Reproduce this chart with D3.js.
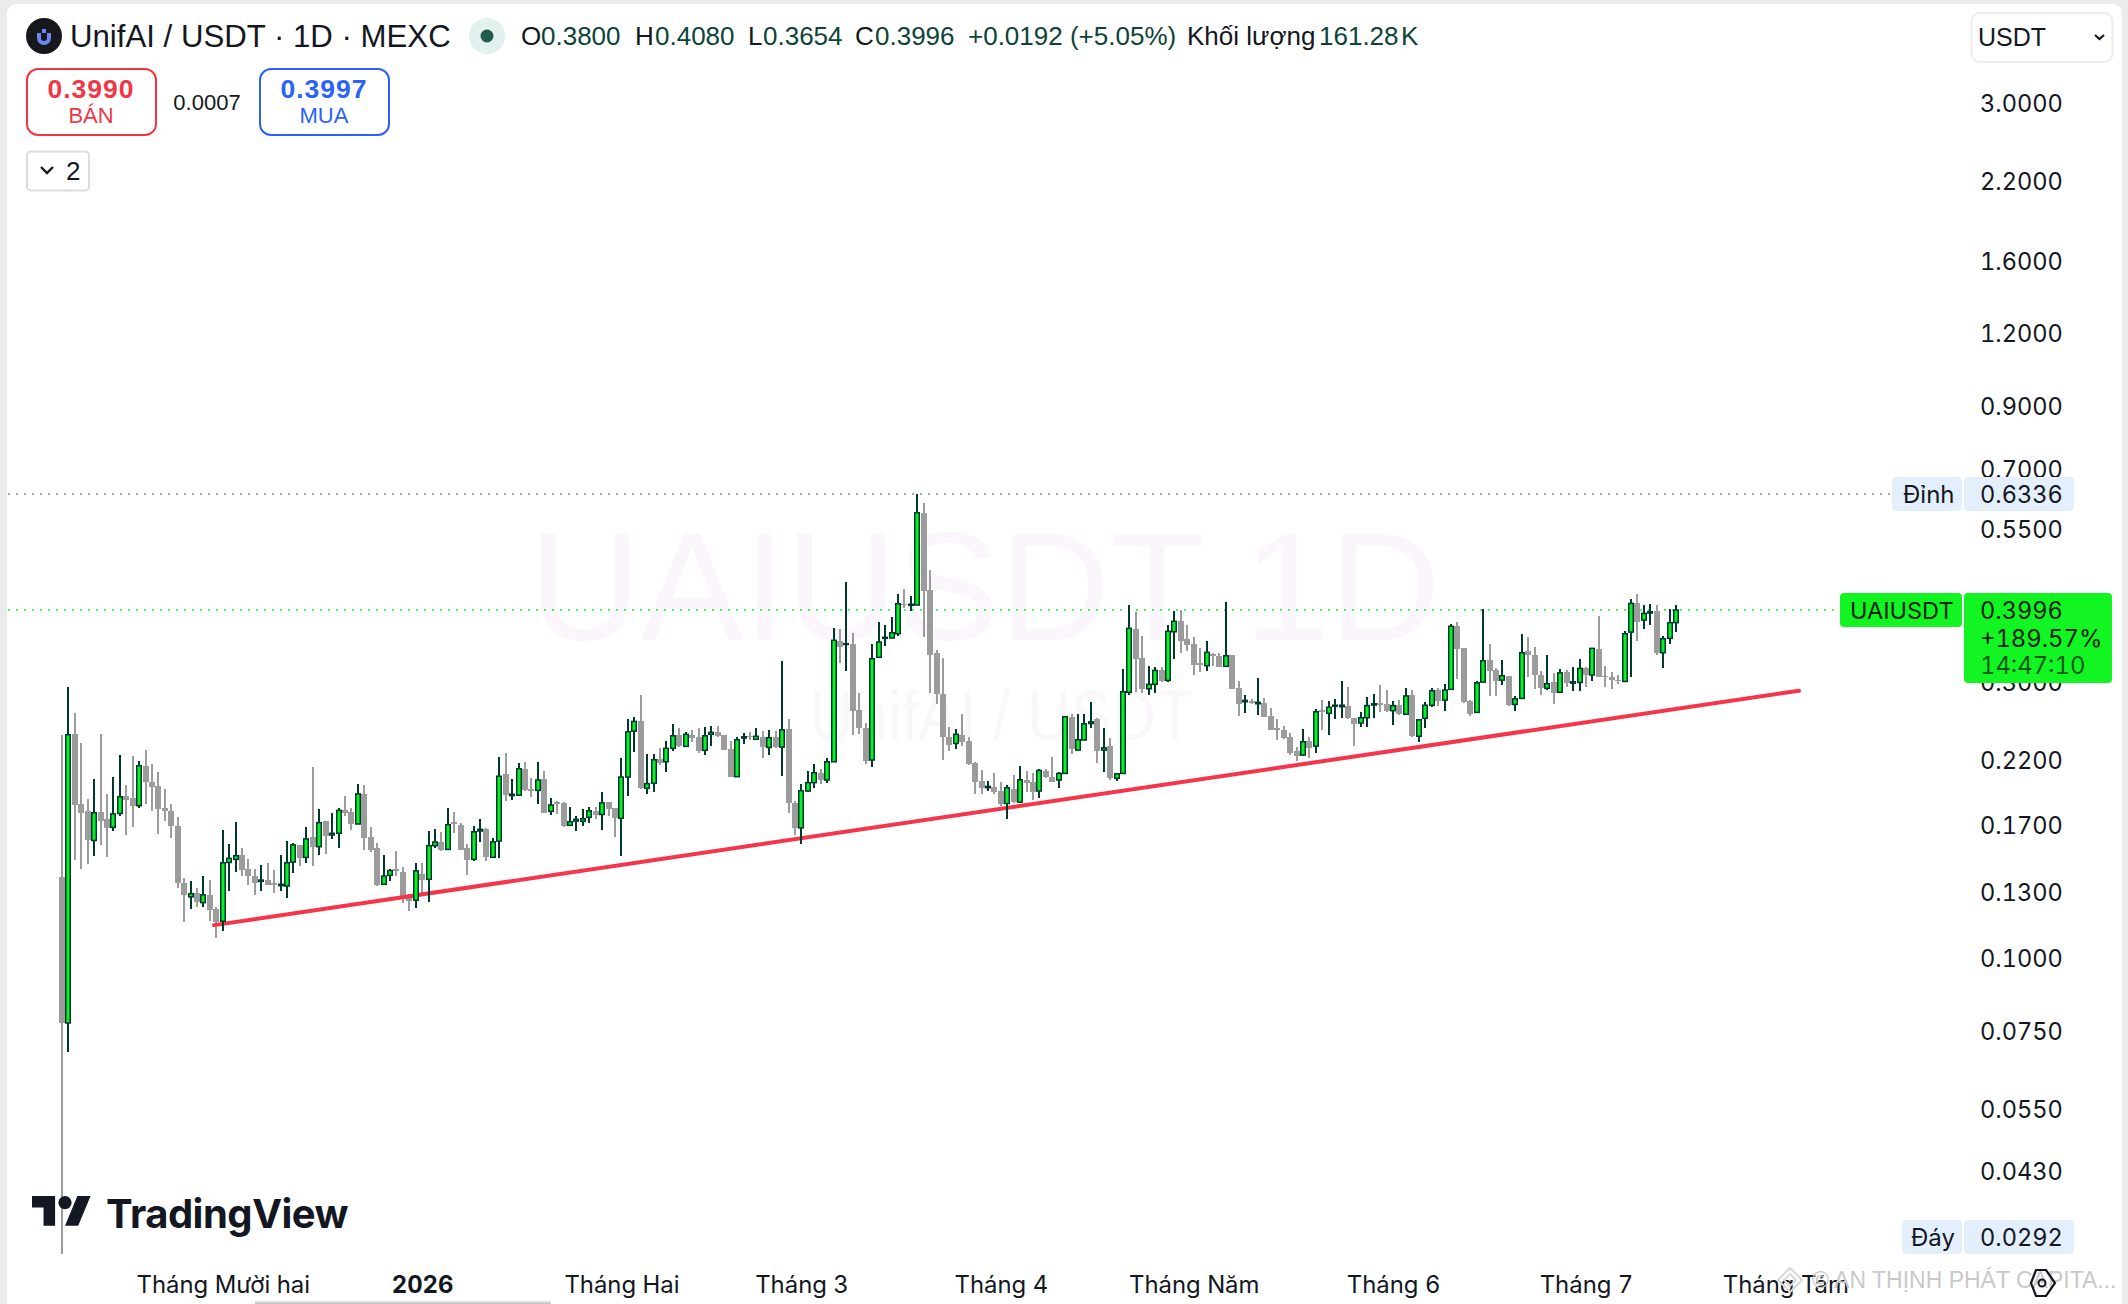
<!DOCTYPE html>
<html><head><meta charset="utf-8">
<script src="https://cdn.jsdelivr.net/npm/d3@7"></script>
<style>html,body{margin:0;padding:0;background:#ebebeb}svg{display:block}text{font-family:Inter,"Noto Sans",sans-serif;font-variant-numeric:tabular-nums}</style>
</head><body><svg id="c" width="2128" height="1304"></svg>
<script>
const startDay = "2025-11-06";
const highs = [
.2431,.2938,.2650,.2352,.1882,.2039,.2441,.1922,.2061,.2244,
.1993,.2237,.2190,.2290,.2167,.2099,.1961,.1851,.1758,.1380,
.1361,.1322,.1386,.1366,.1228,.1664,.1574,.1718,.1549,.1483,
.1430,.1453,.1459,.1421,.1507,.1593,.1584,.1570,.1684,.2138,
.1809,.1725,.1780,.1816,.1907,.1816,.1998,.1990,.1686,.1580,
.1507,.1430,.1533,.1436,.1290,.1459,.1459,.1662,.1671,.1654,
.1816,.1787,.1716,.1574,.1691,.1739,.1678,.1612,.2225,.2260,
.2039,.2173,.2181,.2047,.2181,.2104,.1890,.1872,.1862,.1824,
.1760,.1809,.1828,.1828,.1936,.1862,.1819,.2216,.2590,.2608,
.2848,.2256,.2256,.2306,.2371,.2536,.2496,.2457,.2479,.2496,
.2506,.2516,.2516,.2431,.2373,.2414,.2447,.2462,.2496,.2472,
.2476,.2472,.3258,.2588,.1872,.1998,.2104,.2165,.2121,.2216,
.3715,.3705,.4460,.3642,.2869,.2547,.3486,.3805,.3760,.3885,
.4253,.4337,.4224,.6336,.6110,.4683,.3408,.3297,.2512,.2486,
.2643,.2409,.2184,.2115,.2022,.2087,.2019,.1993,.2073,.2150,
.2107,.2087,.2121,.2121,.2228,.2102,.2622,.2643,.2643,.2643,
.2768,.2603,.2496,.2405,.2087,.3160,.4076,.3969,.3604,.3198,
.3181,.3181,.3764,.3980,.3995,.3764,.3585,.3431,.3532,.3372,
.3364,.4120,.3341,.3015,.2848,.2805,.3048,.2812,.2710,.2588,
.2522,.2447,.2320,.2489,.2409,.2696,.2793,.2785,.2801,.3012,
.2940,.2604,.2667,.2827,.2862,.2965,.2907,.2782,.2793,.2930,
.2907,.2590,.2775,.2927,.2927,.2978,.3779,.3805,.3439,.2793,
.3015,.4007,.3490,.3168,.3275,.3077,.2840,.3628,.3585,.3445,
.3134,.3341,.3113,.3163,.3147,.3181,.3284,.3181,.3439,.3900,
.3198,.3126,.3084,.3680,.4169,.4266,.4071,.4092,.4071,.3604,
.4007,.4080];
const bodyTops = [
.1382,.2434,.2438,.1848,.1795,.1785,.1787,.1741,.1777,.1902,
.1910,.1890,.2152,.2147,.2017,.1985,.1819,.1795,.1693,.1350,
.1294,.1296,.1288,.1285,.1216,.1463,.1489,.1505,.1512,.1425,
.1386,.1366,.1364,.1348,.1343,.1463,.1571,.1568,.1609,.1620,
.1716,.1725,.1645,.1802,.1802,.1787,.1924,.1927,.1619,.1549,
.1388,.1419,.1425,.1408,.1286,.1417,.1397,.1566,.1589,.1587,
.1702,.1718,.1698,.1549,.1655,.1671,.1671,.1590,.2064,.2079,
.1921,.2126,.2121,.1959,.2033,.2039,.1841,.1860,.1852,.1722,
.1739,.1743,.1799,.1799,.1857,.1860,.1819,.2057,.2462,.2566,
.2570,.2004,.2204,.2207,.2306,.2424,.2428,.2438,.2434,.2412,
.2424,.2457,.2457,.2428,.2296,.2386,.2414,.2422,.2419,.2414,
.2405,.2409,.2482,.2486,.1855,.1948,.2012,.2093,.2093,.2186,
.3542,.3527,.3495,.3490,.2685,.2496,.3292,.3518,.3585,.3651,
.4097,.4097,.4088,.5882,.5882,.4320,.3364,.2862,.2414,.2438,
.2428,.2373,.2173,.2022,.1982,.1975,.1946,.1972,.1961,.2035,
.2031,.2017,.2112,.2107,.2060,.2087,.2615,.2615,.2386,.2542,
.2562,.2596,.2310,.2326,.2084,.2887,.3715,.3705,.3297,.2974,
.3143,.3143,.3671,.3820,.3824,.3556,.3495,.3241,.3377,.3350,
.3332,.3332,.3341,.2930,.2790,.2782,.2768,.2756,.2622,.2496,
.2479,.2412,.2281,.2367,.2373,.2667,.2682,.2715,.2737,.2737,
.2730,.2598,.2604,.2733,.2753,.2756,.2745,.2733,.2737,.2840,
.2848,.2583,.2737,.2899,.2907,.2907,.3745,.3749,.3431,.2778,
.2992,.3266,.3275,.3143,.3077,.3069,.2807,.3372,.3395,.3337,
.3092,.2981,.2996,.3113,.3122,.3004,.3168,.3176,.3431,.3422,
.3077,.3057,.3031,.3636,.4103,.4108,.3942,.3969,.3980,.3565,
.3799,.3996];
const bodyBottoms = [
.0775,.0774,.1843,.1785,.1601,.1599,.1727,.1681,.1684,.1780,
.1877,.1833,.1836,.2019,.1980,.1813,.1797,.1695,.1351,.1288,
.1278,.1253,.1249,.1213,.1156,.1160,.1465,.1483,.1423,.1390,
.1351,.1359,.1341,.1340,.1336,.1334,.1467,.1491,.1495,.1557,
.1560,.1629,.1634,.1645,.1780,.1707,.1707,.1616,.1539,.1341,
.1343,.1392,.1417,.1282,.1257,.1261,.1366,.1370,.1566,.1539,
.1543,.1707,.1541,.1479,.1483,.1660,.1495,.1495,.1595,.1918,
.1911,.1914,.1953,.1948,.1951,.1785,.1795,.1852,.1693,.1698,
.1727,.1725,.1753,.1770,.1773,.1809,.1746,.1746,.2057,.2469,
.1967,.1967,.2007,.2175,.2186,.2306,.2324,.2324,.2405,.2281,
.2287,.2438,.2424,.2293,.2057,.2060,.2402,.2409,.2390,.2320,
.2314,.2314,.2318,.1857,.1681,.1681,.1946,.2012,.2033,.2033,
.2186,.3453,.3486,.2678,.2496,.2195,.2201,.3311,.3570,.3575,
.3636,.4082,.4071,.4076,.4313,.3345,.2865,.2414,.2336,.2351,
.2367,.2167,.2019,.1969,.1972,.1937,.1846,.1852,.1860,.1862,
.2012,.1940,.1946,.2057,.2019,.2033,.2087,.2296,.2290,.2383,
.2545,.2284,.2290,.2047,.2047,.2087,.2881,.3284,.2922,.2922,
.2974,.3012,.3020,.3665,.3536,.3480,.3215,.3215,.3202,.3332,
.3189,.3194,.2922,.2753,.2775,.2756,.2753,.2612,.2482,.2482,
.2402,.2265,.2237,.2245,.2310,.2326,.2667,.2650,.2726,.2721,
.2604,.2545,.2550,.2604,.2739,.2745,.2678,.2678,.2640,.2640,
.2424,.2419,.2598,.2737,.2785,.2793,.2915,.3418,.2775,.2640,
.2660,.3000,.3134,.3015,.3024,.2739,.2745,.2812,.3341,.3084,
.2933,.2927,.2876,.2881,.2992,.2988,.2996,.3086,.3086,.3061,
.3061,.3031,.3020,.3008,.3660,.3814,.3839,.3948,.3372,.3372,
.3570,.3800];
const lows = [
.0292,.0690,.1479,.1428,.1456,.1505,.1570,.1496,.1660,.1763,
.1633,.1688,.1821,.1848,.1799,.1642,.1727,.1616,.1323,.1157,
.1218,.1229,.1229,.1162,.1083,.1114,.1308,.1412,.1390,.1340,
.1288,.1308,.1338,.1297,.1308,.1272,.1403,.1445,.1463,.1445,
.1510,.1516,.1609,.1551,.1763,.1666,.1705,.1539,.1528,.1334,
.1341,.1362,.1388,.1247,.1208,.1224,.1294,.1253,.1551,.1534,
.1541,.1648,.1539,.1395,.1475,.1589,.1473,.1493,.1493,.1872,
.1879,.1911,.1948,.1902,.1849,.1780,.1770,.1775,.1686,.1695,
.1661,.1695,.1716,.1741,.1668,.1760,.1622,.1505,.1911,.2271,
.1963,.1924,.1935,.2158,.2099,.2284,.2320,.2320,.2361,.2263,
.2247,.2330,.2414,.2290,.2055,.2057,.2345,.2383,.2386,.2221,
.2247,.2310,.2064,.1785,.1634,.1578,.1940,.1972,.2004,.2012,
.2184,.3237,.3138,.2431,.2441,.2170,.2144,.3306,.3462,.3570,
.3604,.4022,.3984,.4071,.3594,.2876,.2753,.2201,.2284,.2302,
.2326,.2158,.1924,.1924,.1948,.1922,.1833,.1743,.1857,.1857,
.1940,.1877,.1893,.2050,.2017,.1967,.2084,.2256,.2287,.2380,
.2496,.2173,.2102,.2033,.2027,.2084,.2848,.2887,.2876,.2848,
.2869,.3004,.3004,.3288,.3364,.3399,.3090,.3126,.3134,.3198,
.3185,.3189,.2919,.2625,.2654,.2745,.2630,.2608,.2479,.2383,
.2390,.2242,.2193,.2237,.2219,.2265,.2479,.2431,.2593,.2603,
.2590,.2330,.2506,.2506,.2601,.2667,.2667,.2530,.2632,.2632,
.2414,.2367,.2503,.2721,.2733,.2678,.2907,.3036,.2756,.2625,
.2650,.2996,.2840,.2837,.2965,.2733,.2678,.2805,.3061,.2915,
.2854,.2904,.2749,.2876,.2938,.2899,.2899,.2940,.3015,.3057,
.2940,.2919,.2978,.3004,.3061,.3532,.3705,.3764,.3341,.3176,
.3490,.3665];
const upDays = [1,5,8,9,12,20,22,25,26,27,31,34,35,36,38,40,42,43,46,50,51,55,57,58,60,64,65,67,68,70,71,74,76,79,80,81,82,84,87,88,89,91,92,94,95,97,100,101,105,106,108,110,112,115,116,117,119,120,122,126,127,128,129,130,132,133,139,144,147,149,152,155,156,158,159,160,162,164,165,166,169,170,172,173,178,181,184,186,193,195,197,198,199,202,203,204,207,209,211,212,213,215,216,220,221,224,226,227,231,233,235,236,238,243,244,246,247,249,250,251];
const priceTicks = [3,2.2,1.6,1.2,0.9,0.7,0.55,0.3,0.22,0.17,0.13,0.1,0.075,0.055,0.043];
const monthDays = ["2025-12-01","2026-01-01","2026-02-01","2026-03-01","2026-04-01","2026-05-01","2026-06-01","2026-07-01","2026-08-01"];
const monthNames = ["Tháng Mười hai","2026","Tháng Hai","Tháng 3","Tháng 4","Tháng Năm","Tháng 6","Tháng 7","Tháng Tám"];
const trendTimes = ["2025-11-29T15:22:00Z","2026-08-03T03:00:00Z"];
const trendPrices = [0.1142,0.2899];
const peakPrice = 0.6336, lowPrice = 0.0292, lastPrice = 0.3996;

const svg = d3.select("#c");
const FONT = "Inter,'Noto Sans',sans-serif", SANS = "'Liberation Sans',Arial,sans-serif";
const t0 = new Date(startDay+"T00:00:00Z");
const dates = highs.map((_,i)=>d3.utcDay.offset(t0,i));
const x = d3.scaleUtc().domain([t0,dates[dates.length-1]]).range([62,1676]);
const y = d3.scaleLog().domain([3,0.03]).range([102.8,102.8+251.6*Math.log(100)]);
const ups = new Set(upDays);

// page panel
svg.append("rect").attr("x",7).attr("y",4).attr("width",2115).attr("height",1340).attr("rx",9).attr("fill","#fff");
const defs = svg.append("defs");
const sg = defs.append("linearGradient").attr("id","sh").attr("x1",0).attr("x2",0).attr("y1",0).attr("y2",1);
sg.append("stop").attr("offset",0).attr("stop-color","#fff");
sg.append("stop").attr("offset",1).attr("stop-color","#bdbdbd");
svg.append("rect").attr("x",255).attr("y",1300).attr("width",296).attr("height",4).attr("fill","url(#sh)");
defs.append("clipPath").attr("id","pane").append("rect").attr("x",7).attr("y",4).attr("width",2115).attr("height",1250);

// watermark
svg.append("text").attr("x",985).attr("y",640).attr("text-anchor","middle").attr("font-size",153.700).attr("fill","#faf6fb").style("font-family",SANS).text("UAIUSDT 1D");
svg.append("text").attr("x",810).attr("y",740).attr("font-size",70).attr("textLength",383).attr("lengthAdjust","spacingAndGlyphs").attr("fill","#faf7fb").style("font-family",SANS).text("UnifAI / USDT");

// price lines
svg.append("line").attr("x1",8).attr("x2",1892).attr("y1",y(peakPrice)).attr("y2",y(peakPrice)).attr("stroke","#8a8a8a").attr("stroke-width",1.4).attr("stroke-dasharray","2 6");
svg.append("line").attr("x1",8).attr("x2",1840).attr("y1",y(lastPrice)).attr("y2",y(lastPrice)).attr("stroke","#12f523").attr("stroke-width",1.4).attr("stroke-dasharray","2 6");

const chart = svg.append("g").attr("clip-path","url(#pane)");
const idx = d3.range(highs.length);
const cx = i=>Math.round(x(dates[i]));
const downIdx = idx.filter(i=>!ups.has(i)), upIdx = idx.filter(i=>ups.has(i));

// bearish (gray)
const gd = chart.append("g").attr("shape-rendering","crispEdges");
gd.selectAll("rect.w").data(downIdx).join("rect").attr("class","w").attr("x",i=>cx(i)-1).attr("width",2)
  .attr("y",i=>y(highs[i])).attr("height",i=>y(lows[i])-y(highs[i])).attr("fill","#9c9c9c");
gd.selectAll("rect.b").data(downIdx).join("rect").attr("class","b").attr("x",i=>cx(i)-3).attr("width",6)
  .attr("y",i=>y(bodyTops[i])).attr("height",i=>Math.max(1.5,y(bodyBottoms[i])-y(bodyTops[i]))).attr("fill","#9c9c9c");

// trend line
const line = d3.line().x(d=>x(new Date(d[0]))).y(d=>y(d[1]));
chart.append("path").attr("d",line(d3.zip(trendTimes,trendPrices))).attr("fill","none").attr("stroke","#f6344a").attr("stroke-width",4).attr("stroke-linecap","round");

// bullish (green, dark border)
const gu = chart.append("g");
gu.selectAll("rect.w").data(upIdx).join("rect").attr("class","w").attr("x",i=>cx(i)-1).attr("width",2).attr("shape-rendering","crispEdges")
  .attr("y",i=>y(highs[i])).attr("height",i=>y(lows[i])-y(highs[i])).attr("fill","#003a2f");
gu.selectAll("rect.b").data(upIdx).join("rect").attr("class","b").attr("x",i=>cx(i)-2.25).attr("width",4.5)
  .attr("y",i=>y(bodyTops[i])).attr("height",i=>Math.max(0.8,y(bodyBottoms[i])-y(bodyTops[i])))
  .attr("fill","#0cf022").attr("stroke","#003a2f").attr("stroke-width",1.5);

// axes
const yAxis = d3.axisRight(y).tickValues(priceTicks).tickFormat(d3.format(".4f")).tickSize(0).tickPadding(0);
const ya = svg.append("g").attr("transform","translate(1980,0.8)").call(yAxis);
ya.select(".domain").remove();
ya.selectAll("text").style("font-family",FONT).attr("font-size",23.6).attr("fill","#131722");

const monthTimes = monthDays.map(d=>new Date(d+"T00:00:00Z"));
const xAxis = d3.axisBottom(x).tickValues(monthTimes).tickFormat((d,i)=>monthNames[i]).tickSize(0).tickPadding(0);
const xa = svg.append("g").attr("transform","translate(0,1276)").call(xAxis);
xa.select(".domain").remove();
xa.selectAll("text").style("font-family",FONT).attr("font-size",23.9).attr("fill","#131722").attr("font-weight",(d,i)=>monthNames[i]==="2026"?700:400);

// scale labels
function tag(xp,yp,w,h,fill,rx){svg.append("rect").attr("x",xp).attr("y",yp).attr("width",w).attr("height",h).attr("rx",rx||4).attr("fill",fill);}
function txt(xp,yp,s,size,fill,o){const t=svg.append("text").attr("x",xp).attr("y",yp).attr("font-size",size).attr("fill",fill).attr("dominant-baseline","central").text(s);
 if(o){for(const k in o){ if(k==="family") t.style("font-family",o[k]); else t.attr(k,o[k]); }} return t;}
const LB="#e3effd", GR="#12f523";
tag(1892,477,70,34,LB);tag(1964,477,110,34,LB);
txt(1903,494.500,"Đỉnh",24,"#131722");txt(1980,494.500,d3.format(".4f")(peakPrice),23.6,"#131722");
tag(1902,1220,60,34,LB);tag(1964,1220,110,34,LB);
txt(1911,1237,"Đáy",24,"#131722");txt(1980,1237,d3.format(".4f")(lowPrice),23.6,"#131722");
tag(1840,593,122,34,GR);tag(1964,593,148,90,GR);
txt(1850,610,"UAIUSDT",23.500,"#06240a");
txt(1980,610,d3.format(".4f")(lastPrice),23.6,"#06240a");
txt(1980,638,"+189.57%",23.8,"#06240a");
txt(1980,665,"14:47:10",23.8,"#0a5a1a");

// header
svg.append("circle").attr("cx",44).attr("cy",36).attr("r",18).attr("fill","#17181c");
svg.append("path").attr("d","M37 33v5a7 7 0 0 0 14 0v-5h-4v5a3 3 0 0 1-6 0v-5z").attr("fill","#6f86f2");
svg.append("rect").attr("x",42).attr("y",29).attr("width",4).attr("height",4).attr("fill","#6f86f2");
txt(70,36,"UnifAI / USDT · 1D · MEXC",31.200,"#131722",{family:SANS});
svg.append("circle").attr("cx",487).attr("cy",36).attr("r",18).attr("fill","#e2f0ee");
svg.append("circle").attr("cx",487).attr("cy",36).attr("r",6.500).attr("fill","#1f5c4c");
const labelInk="#131722", valInk="#0d4338";
[[521,"O",541,"0.3800"],[635,"H",655,"0.4080"],[748,"L",763,"0.3654"],[855,"C",875,"0.3996"]].forEach(r=>{
  txt(r[0],36,r[1],26,labelInk,{family:SANS});txt(r[2],36,r[3],26,valInk,{family:SANS});});
txt(968,36,"+0.0192 (+5.05%)",26,valInk,{family:SANS});
txt(1187,36,"Khối lượng",26,labelInk,{family:SANS});
txt(1319,36,"161.28",26,valInk,{family:SANS});
txt(1401,36,"K",26,valInk,{family:SANS});

// buy/sell
svg.append("rect").attr("x",27).attr("y",69).attr("width",129).attr("height",66).attr("rx",11).attr("fill","#fff").attr("stroke","#f23645").attr("stroke-width",2);
txt(91,89,"0.3990",26.500,"#f23645",{"text-anchor":"middle","font-weight":600,"letter-spacing":"1",family:SANS});
txt(91,115,"BÁN",22,"#f23645",{"text-anchor":"middle",family:SANS});
txt(207,102,"0.0007",22,"#131722",{"text-anchor":"middle",family:SANS});
svg.append("rect").attr("x",260).attr("y",69).attr("width",129).attr("height",66).attr("rx",11).attr("fill","#fff").attr("stroke","#2962ff").attr("stroke-width",2);
txt(324,89,"0.3997",26.500,"#2962ff",{"text-anchor":"middle","font-weight":600,"letter-spacing":"1",family:SANS});
txt(324,115,"MUA",22,"#2962ff",{"text-anchor":"middle",family:SANS});
svg.append("rect").attr("x",27).attr("y",151.500).attr("width",62).attr("height",39).attr("rx",4).attr("fill","#fff").attr("stroke","#dcdcdc").attr("stroke-width",2);
svg.append("path").attr("d","M41 167l6 6 6-6").attr("fill","none").attr("stroke","#131722").attr("stroke-width",2.400);
txt(66,171,"2",26,"#131722",{family:SANS});

// currency select
svg.append("rect").attr("x",1971.500).attr("y",13).attr("width",141).attr("height",49).attr("rx",8).attr("fill","#fff").attr("stroke","#ececec").attr("stroke-width",2);
txt(1978,37,"USDT",25,"#131722",{family:SANS});
svg.append("path").attr("d","M2095 35l4.500 4 4.500-4").attr("fill","none").attr("stroke","#131722").attr("stroke-width",2.200);

// TradingView logo
const lg = svg.append("g").attr("transform","translate(32,1189.400) scale(1.65)").attr("fill","#131722");
lg.append("path").attr("d","M14 22H7V11H0V4h14v18zM28 22h-8l7.500-18h8L28 22z");
lg.append("circle").attr("cx",20).attr("cy",8).attr("r",4);
txt(106,1213,"TradingView",40,"#131722",{"font-weight":700,"letter-spacing":"-0.5"});

// attribution
svg.append("path").attr("d","M1790 1268l12 12-12 12-12-12zM1790 1274l6 6-6 6-6-6z").attr("fill","none").attr("stroke","#d8d8d8").attr("stroke-width",2);
txt(1812,1280,"© AN THỊNH PHÁT CAPITA...",23,"#c9c9c9",{family:SANS});
svg.append("path").attr("d","M2034 1283l5-13h10l9 13-9 13h-10z").attr("fill","none").attr("stroke","#131722").attr("stroke-width",2.200).attr("transform","translate(-3,0)");
svg.append("circle").attr("cx",2042).attr("cy",1283).attr("r",3.500).attr("fill","none").attr("stroke","#131722").attr("stroke-width",2);
</script></body></html>
